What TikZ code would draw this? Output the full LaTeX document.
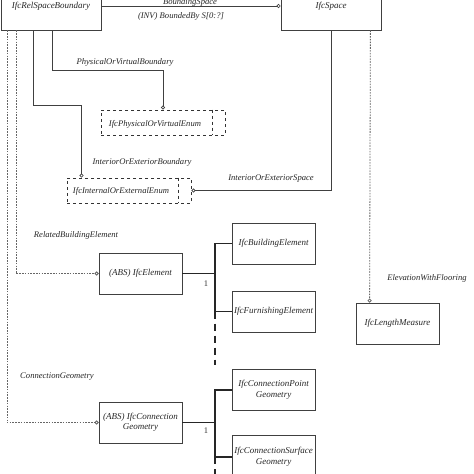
\documentclass[tikz,border=0pt]{standalone}
\usepackage{fontspec}
\setmainfont{Liberation Serif}
\usetikzlibrary{arrows.meta}
\begin{document}
\begin{tikzpicture}[x=1pt,y=-1pt,
  box/.style={draw=black!75, line width=0.8pt, minimum width=83pt, minimum height=41pt, inner sep=1pt, font=\itshape\fontsize{9}{10.5}\selectfont, align=center, text=black!85},
  enumbox/.style={draw=black!80, dashed, line width=0.9pt, minimum width=124pt, minimum height=25pt},
  lbl/.style={font=\itshape\fontsize{8.6}{10}\selectfont, text=black!85, inner sep=0pt},
  num/.style={font=\fontsize{8.6}{10}\selectfont, text=black!80, inner sep=0pt},
  link/.style={draw=black!75, line width=0.7pt},
  dlink/.style={draw=black!60, line width=0.8pt, dash pattern=on 1.6pt off 1.2pt},
  tree/.style={draw=black!85, line width=1.2pt},
  treedash/.style={draw=black!85, line width=1.2pt, dash pattern=on 7pt off 5pt},
  circ/.style={-{Circle[open,length=4pt,width=4pt]}},
]
\clip (0,0) rectangle (474,474);
\fill[white] (0,0) rectangle (474,474);
% boxes
\node[box, minimum width=100pt, minimum height=48pt] (rsb) at (51,6) {IfcRelSpaceBoundary};
\node[box, minimum width=100pt, minimum height=48pt] (space) at (331,6) {IfcSpace};
\node[enumbox] (pve) at (163,122.5) {};
\node[lbl] (pvel) at (155,124) {IfcPhysicalOrVirtualEnum};
\draw[draw=black!80, dashed, line width=0.9pt] ([xshift=-13pt]pve.north east) -- ([xshift=-13pt]pve.south east);
\node[enumbox] (ioe) at (129,190.5) {};
\node[lbl] (ioel) at (121,191) {IfcInternalOrExternalEnum};
\draw[draw=black!80, dashed, line width=0.9pt] ([xshift=-13pt]ioe.north east) -- ([xshift=-13pt]ioe.south east);
\node[box] (lm) at (397.5,323.5) {IfcLengthMeasure};
\node[box] (el) at (140.5,273.5) {(ABS) IfcElement};
\node[box] (be) at (273.5,243.5) {IfcBuildingElement};
\node[box] (fe) at (273.5,311.5) {IfcFurnishingElement};
\node[box] (cg) at (140.5,422.5) {(ABS) IfcConnection\\Geometry};
\node[box] (cpg) at (273.5,390) {IfcConnectionPoint\\Geometry};
\node[box, minimum height=44pt] (csg) at (273.5,457) {IfcConnectionSurface\\Geometry};
% top link
\draw[link,circ] (rsb.east) -- (space.west);
\node[lbl] (bsl) at (190,2) {BoundingSpace};
\node[lbl] (bbl) at (181,16.5) {(INV) BoundedBy S[0:?]};
% physical or virtual
\coordinate (p1) at (52,70);
\draw[link,circ] (rsb.south -| p1) -- (p1) -| (pve.north);
\node[lbl] (pvbl) at (125,62) {PhysicalOrVirtualBoundary};
% interior or exterior boundary
\coordinate (p2) at (33,105);
\coordinate (ioein) at ([xshift=15pt]ioe.north west);
\draw[link,circ] (rsb.south -| p2) -- (p2) -| (ioein);
\node[lbl] (ioebl) at (142,162) {InteriorOrExteriorBoundary};
% interior or exterior space
\draw[link,circ] (space.south) |- (ioe.east);
\node[lbl] (ioesl) at (271,179) {InteriorOrExteriorSpace};
% elevation
\coordinate (s1) at ([xshift=-11pt]space.south east);
\coordinate (lmin) at ([xshift=14pt]lm.north west);
\draw[dlink,circ] (s1) -- (lmin);
\node[lbl] (ewfl) at (427,278) {ElevationWithFlooring};
% related building element
\coordinate (d1) at (16,0);
\draw[dlink,circ] (rsb.south -| d1) |- (el.west);
\node[lbl] (rbel) at (76,235) {RelatedBuildingElement};
% connection geometry
\coordinate (d2) at (7,0);
\draw[dlink,circ] (rsb.south -| d2) |- (cg.west);
\node[lbl] (cgl) at (57,377) {ConnectionGeometry};
% tree 1
\coordinate (j1) at (215,0);
\draw[tree] (el.east) -- (el.east -| j1);
\draw[tree] (be.west) -- (be.west -| j1) -- (fe.west -| j1) -- (fe.west);
\draw[treedash] (fe.west -| j1) -- ++(0,53);
\node[num] (n1) at (206,284) {1};
% tree 2
\draw[tree] (cg.east) -- (cg.east -| j1);
\draw[tree] (cpg.west) -- (cpg.west -| j1) -- (csg.west -| j1) -- (csg.west);
\draw[treedash] (csg.west -| j1) -- ++(0,20);
\node[num] (n2) at (206,431) {1};
\end{tikzpicture}
\end{document}
